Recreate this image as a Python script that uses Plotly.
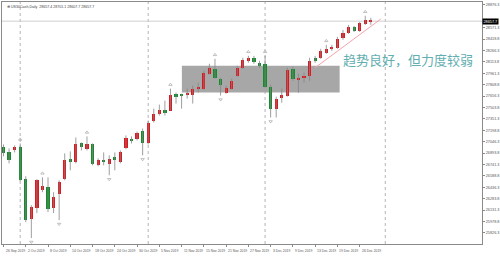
import plotly.graph_objects as go

# ---- data ----
opens = [26969, 26902, 26929, 26969, 26543, 26010, 26157, 26396, 26436, 26157,
         26343, 26543, 26809, 26769, 27022, 26943, 27009, 26729, 26796, 26743,
         26836, 26769, 26956, 27076, 27076, 27195, 27022, 27329, 27422, 27475,
         27462, 27688, 27675, 27675, 27675, 27755, 27755, 27955, 28021, 27888,
         27702, 27755, 27928, 28035, 28128, 28168, 28101, 28088, 27781, 27488,
         27635, 27662, 28021, 27875, 27901, 27928, 28168, 28168, 28234, 28288,
         28301, 28434, 28501, 28581, 28527, 28621, 28657.4]
closes = [26889, 26796, 26969, 26529, 25997, 26170, 26529, 26449, 26143, 26303,
          26503, 26796, 26769, 27009, 26969, 27009, 26743, 26796, 26769, 26809,
          26796, 26902, 27089, 27049, 27156, 27022, 27302, 27422, 27475, 27435,
          27675, 27648, 27662, 27688, 27755, 27768, 27968, 28035, 27901, 27808,
          27768, 27861, 28035, 28141, 28168, 28114, 28061, 27781, 27488, 27622,
          27675, 28008, 27888, 27901, 27928, 28128, 28128, 28261, 28288, 28301,
          28421, 28501, 28581, 28527, 28634, 28674, 28657.7]
highs = [27009, 26956, 26996, 27022, 26583, 26196, 26543, 26569, 26569, 26370,
         26529, 26889, 26916, 27102, 27036, 27116, 27022, 26823, 26902, 26863,
         26902, 26929, 27129, 27116, 27182, 27222, 27329, 27488, 27542, 27595,
         27755, 27702, 27688, 27755, 27795, 27835, 27995, 28088, 28154, 27901,
         27795, 27888, 28061, 28168, 28194, 28194, 28128, 28194, 27808, 27648,
         27755, 28035, 28048, 27955, 27968, 28168, 28194, 28288, 28341, 28341,
         28447, 28541, 28607, 28594, 28647, 28730, 28701.1]
lows = [26849, 26756, 26902, 26516, 25970, 25757, 26090, 26370, 26103, 26090,
        25997, 26529, 26663, 26756, 26929, 26929, 26729, 26716, 26729, 26596,
        26663, 26756, 26943, 27022, 27062, 26863, 27009, 27302, 27395, 27395,
        27462, 27555, 27488, 27622, 27555, 27702, 27742, 27941, 27888, 27662,
        27688, 27742, 27915, 28021, 28101, 28088, 28035, 27768, 27369, 27369,
        27568, 27648, 27861, 27702, 27835, 27861, 28101, 28154, 28221, 28261,
        28288, 28408, 28488, 28514, 28514, 28607, 28607.7]

fractal_up = [3, 7, 15, 30, 38, 44, 47, 58, 65]
fractal_down = [5, 10, 19, 25, 39, 48]

date_idx = [0, 4, 8, 12, 16, 20, 24, 28, 32, 36, 40, 44, 48, 52, 56, 60, 64]
date_labels = ["26 Sep 2019", "2 Oct 2019", "8 Oct 2019", "14 Oct 2019", "18 Oct 2019",
               "24 Oct 2019", "30 Oct 2019", "5 Nov 2019", "11 Nov 2019", "15 Nov 2019",
               "21 Nov 2019", "27 Nov 2019", "3 Dec 2019", "9 Dec 2019", "13 Dec 2019",
               "19 Dec 2019", "26 Dec 2019"]
month_sep_idx = [3, 26, 47, 68.6]

price_ticks = [28876.3, 28571.3, 28418.8, 28266.3, 28113.8, 27961.3,
               27808.8, 27656.3, 27503.8, 27351.3, 27198.8, 27046.3, 26893.8,
               26741.3, 26588.8, 26436.3, 26283.8, 26131.3, 25978.8, 25826.3, 25673.8]

last_price = 28657.7
title_text = "US30Cash,Daily  28657.4 28701.1 28607.7 28657.7"
note_text = "趋势良好，但力度较弱"

# zone and trend line
zone_x = [32.05, 60.4]
zone_y = [27702, 28061]
trend_x = [56.0, 67.8]
trend_y = [28035, 28687]

UP = "#e0161d"
DOWN = "#168a2c"
WICK = "#858585"

n = len(opens)
idx = list(range(n))

fig = go.Figure()

# wicks
wx, wy = [], []
for i in idx:
    wx += [i, i, None]
    wy += [lows[i], highs[i], None]
fig.add_trace(go.Scatter(x=wx, y=wy, mode="lines", line=dict(color=WICK, width=0.8),
                         hoverinfo="skip", showlegend=False))

# bodies
MIN_BODY = 12
base = [min(o, c) for o, c in zip(opens, closes)]
height = [max(abs(c - o), MIN_BODY) for o, c in zip(opens, closes)]
colors = [UP if c >= o else DOWN for o, c in zip(opens, closes)]
fig.add_trace(go.Bar(x=idx, y=height, base=base, width=0.58,
                     marker=dict(color=colors, line=dict(width=0)),
                     showlegend=False, hoverinfo="skip"))

# fractals
PX = 13.32
fig.add_trace(go.Scatter(x=fractal_up, y=[highs[i] + 4 * PX for i in fractal_up], mode="markers",
                         marker=dict(symbol="triangle-up-open", size=3, color="#a8a8a8",
                                     line=dict(width=0.7, color="#a8a8a8")),
                         showlegend=False, hoverinfo="skip"))
fig.add_trace(go.Scatter(x=fractal_down, y=[lows[i] - 4 * PX for i in fractal_down], mode="markers",
                         marker=dict(symbol="triangle-down-open", size=3, color="#a8a8a8",
                                     line=dict(width=0.7, color="#a8a8a8")),
                         showlegend=False, hoverinfo="skip"))

shapes = []
shapes.append(dict(type="rect", xref="x", yref="y", x0=zone_x[0], x1=zone_x[1],
                   y0=zone_y[0], y1=zone_y[1], fillcolor="#a7a7a7",
                   line=dict(width=0), layer="below"))
for s in month_sep_idx:
    shapes.append(dict(type="line", xref="x", yref="paper", x0=s, x1=s, y0=0, y1=1,
                       line=dict(color="#b4b4b4", width=1, dash="dot"), layer="below"))
shapes.append(dict(type="line", xref="paper", yref="y", x0=0, x1=1, y0=last_price, y1=last_price,
                   line=dict(color="#cfcfcf", width=1), layer="below"))
shapes.append(dict(type="line", xref="x", yref="y", x0=trend_x[0], x1=trend_x[1],
                   y0=trend_y[0], y1=trend_y[1], line=dict(color="#f3a3ad", width=1)))

annotations = []
for i, lab in zip(date_idx, date_labels):
    annotations.append(dict(x=i, y=-0.014, xref="x", yref="paper", text=lab, showarrow=False,
                            xanchor="left", yanchor="top", font=dict(size=3.4, color="#555555",
                                                                      family="Liberation Sans")))
annotations.append(dict(x=1, y=last_price, xref="paper", yref="y", text=f"{last_price:.1f}",
                        showarrow=False, xanchor="left", yanchor="middle", bgcolor="#000000",
                        font=dict(size=3.8, color="#ffffff", family="Liberation Sans"),
                        borderpad=0.5))
annotations.append(dict(x=0.006, y=0.995, xref="paper", yref="paper", text="⊕ " + title_text,
                        showarrow=False, xanchor="left", yanchor="top",
                        font=dict(size=3.6, color="#444444", family="Liberation Sans")))
annotations.append(dict(x=60.6, y=28141, xref="x", yref="y", text=note_text, showarrow=False,
                        xanchor="left", yanchor="middle",
                        font=dict(size=13, color="#62aeb0", family="Noto Sans CJK SC")))

fig.update_layout(
    width=500, height=257,
    margin=dict(l=1, r=16, t=1, b=13),
    paper_bgcolor="#ffffff", plot_bgcolor="#ffffff",
    shapes=shapes, annotations=annotations,
    bargap=0, showlegend=False,
    xaxis=dict(range=[-0.27, 85.98], showgrid=False, zeroline=False, showline=True,
               linecolor="#8a8a8a", linewidth=1, mirror=True,
               tickvals=date_idx, ticks="outside", ticklen=2, tickcolor="#8a8a8a",
               showticklabels=False),
    yaxis=dict(range=[25677, 28914], side="right", showgrid=False, zeroline=False,
               showline=True, linecolor="#8a8a8a", linewidth=1, mirror=True,
               tickvals=price_ticks, ticktext=[f"{v:.1f}" for v in price_ticks],
               ticks="outside", ticklen=2, tickcolor="#8a8a8a",
               tickfont=dict(size=3.8, color="#555555", family="Liberation Sans")),
)

fig.write_html("out.html")
